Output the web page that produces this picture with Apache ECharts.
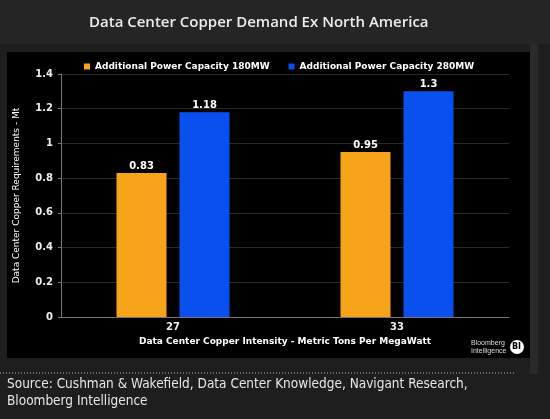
<!DOCTYPE html>
<html><head><meta charset="utf-8">
<script src="https://cdn.jsdelivr.net/npm/echarts@6/dist/echarts.min.js"></script>
<style>html,body{margin:0;padding:0;background:#1e1e1e;}#c{width:550px;height:419px;}</style>
</head><body><div id="c"></div>
<script>
const categories = ['27', '33'];
const series180 = [0.83, 0.95];
const series280 = [1.18, 1.3];
const seriesNames = ['Additional Power Capacity 180MW', 'Additional Power Capacity 280MW'];
const yTicks = { min: 0, max: 1.4, interval: 0.2 };

const chart = echarts.init(document.getElementById('c'));
const lbl = { show: true, position: 'top', color: '#fff', fontFamily: 'DejaVu Sans', fontWeight: 'bold', fontSize: 10, distance: 2 };
chart.setOption({
  backgroundColor: '#1e1e1e',
  animation: false,
  graphic: [
    { type: 'rect', shape: { x: 0, y: 0, width: 550, height: 44 }, style: { fill: '#252525' }, z: -10 },
    { type: 'rect', shape: { x: 7, y: 52, width: 523, height: 306 }, style: { fill: '#000' }, z: -10 },
    { type: 'rect', shape: { x: 530, y: 44, width: 8, height: 330 }, style: { fill: '#2a2a2a' }, z: -10 },
    { type: 'line', shape: { x1: 0, y1: 373, x2: 515, y2: 373 }, style: { stroke: '#bbb', lineWidth: 1, lineDash: [1, 2] } },
    { type: 'text', left: 7, top: 376, style: { text: 'Source: Cushman & Wakefield, Data Center Knowledge, Navigant Research,\nBloomberg Intelligence', fill: '#e6e6e6', font: '13.5px "DejaVu Sans Condensed", "Liberation Sans Narrow", sans-serif', lineHeight: 17 } },
    { type: 'text', left: 471, top: 339, style: { text: 'Bloomberg\nIntelligence', fill: '#ddd', font: '7px "Liberation Sans", sans-serif', lineHeight: 8 } },
    { type: 'circle', shape: { cx: 517, cy: 347, r: 7 }, style: { fill: '#fff' } },
    { type: 'text', left: 512, top: 343, style: { text: 'BI', fill: '#000', font: 'bold 8px "DejaVu Sans", sans-serif' } }
  ],
  title: {
    text: 'Data Center Copper Demand Ex North America',
    left: 84, top: 10,
    textStyle: { color: '#ececec', fontFamily: 'Open Sans', fontWeight: 600, fontSize: 15 }
  },
  legend: {
    top: 57, left: 79,
    itemWidth: 6, itemHeight: 6, itemGap: 19,
    icon: 'rect',
    textStyle: { color: '#fff', fontFamily: 'DejaVu Sans', fontWeight: 'bold', fontSize: 9 }
  },
  grid: { left: 61, right: 41, top: 74, bottom: 102 },
  xAxis: {
    type: 'category', data: categories,
    name: 'Data Center Copper Intensity - Metric Tons Per MegaWatt',
    nameLocation: 'middle', nameGap: 20,
    nameTextStyle: { color: '#fff', fontFamily: 'DejaVu Sans', fontWeight: 'bold', fontSize: 9 },
    axisLine: { lineStyle: { color: '#777' } },
    axisTick: { inside: true, length: 3, lineStyle: { color: '#777' } },
    axisLabel: { color: '#eee', fontFamily: 'DejaVu Sans', fontWeight: 'bold', fontSize: 10, margin: 5 }
  },
  yAxis: {
    type: 'value', min: yTicks.min, max: yTicks.max, interval: yTicks.interval,
    name: 'Data Center Copper Requirements - Mt',
    nameLocation: 'middle', nameGap: 40,
    nameTextStyle: { color: '#fff', fontFamily: 'DejaVu Sans', fontSize: 9 },
    axisLine: { show: true, lineStyle: { color: '#777' } },
    axisTick: { show: true, length: 3, lineStyle: { color: '#777' } },
    splitLine: { lineStyle: { color: '#2a2a2a' } },
    axisLabel: { color: '#eee', fontFamily: 'DejaVu Sans', fontWeight: 'bold', fontSize: 10, margin: 8 }
  },
  series: [
    { name: seriesNames[0], type: 'bar', data: series180, barWidth: 50, barGap: '26%', itemStyle: { color: '#F7A41B' }, label: lbl },
    { name: seriesNames[1], type: 'bar', data: series280, barWidth: 50, itemStyle: { color: '#0A50EE' }, label: lbl }
  ]
});
</script></body></html>
